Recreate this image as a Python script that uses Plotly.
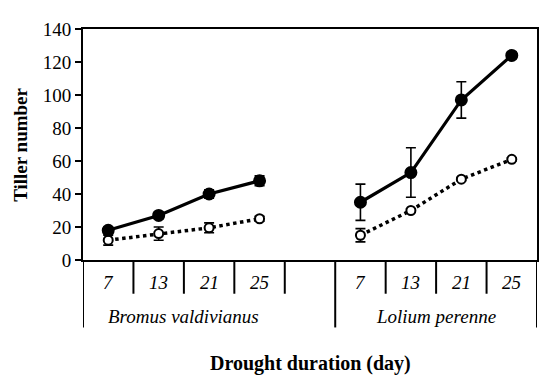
import plotly.graph_objects as go

days = ["7", "13", "21", "25"]
species = ["Bromus valdivianus", "Lolium perenne"]
species_pos = [[1, 2, 3, 4], [6, 7, 8, 9]]

bromus_solid = [18, 27, 40, 48]
bromus_solid_err = [2, 2, 2.5, 3]
bromus_dotted = [12, 16, 19.5, 25]
bromus_dotted_err = [3, 4, 3, 1.5]
lolium_solid = [35, 53, 97, 124]
lolium_solid_err = [11, 15, 11, 2]
lolium_dotted = [15, 30, 49, 61]
lolium_dotted_err = [4, 1, 1, 1]

FONT = "Liberation Serif"

fig = go.Figure()

def add_series(x, y, err, dash, filled):
    fig.add_trace(go.Scatter(
        x=x, y=y, mode="lines+markers",
        line=dict(color="black", width=3.2 if dash == "solid" else 3.5, dash=dash),
        marker=dict(size=11 if filled else 9, color="black" if filled else "white",
                    line=dict(color="black", width=2), symbol="circle"),
        error_y=dict(type="data", array=err, color="black", thickness=1.6, width=5),
        showlegend=False, cliponaxis=False,
    ))

add_series(species_pos[0], bromus_dotted, bromus_dotted_err, "dot", False)
add_series(species_pos[0], bromus_solid, bromus_solid_err, "solid", True)
add_series(species_pos[1], lolium_dotted, lolium_dotted_err, "dot", False)
add_series(species_pos[1], lolium_solid, lolium_solid_err, "solid", True)

shapes = []
for b in [1.5, 2.5, 3.5, 4.5, 6.5, 7.5, 8.5]:
    shapes.append(dict(type="line", xref="x", yref="paper", x0=b, x1=b, y0=0, y1=-0.146,
                       line=dict(color="black", width=2)))
for b in [0.5, 5.5, 9.5]:
    shapes.append(dict(type="line", xref="x", yref="paper", x0=b, x1=b, y0=0, y1=-0.292,
                       line=dict(color="black", width=2)))

def ann(x, y, text, size, xref="x", angle=0):
    return dict(x=x, y=y, xref=xref, yref="paper", text=text, textangle=angle,
                xanchor="center", yanchor="middle", showarrow=False,
                font=dict(family=FONT, size=size, color="black"))

annotations = []
for pos in species_pos:
    for xp, d in zip(pos, days):
        annotations.append(ann(xp, -0.096, f"<i>{d}</i>", 19))
annotations.append(ann(2.5, -0.246, "<i>Bromus valdivianus</i>", 19))
annotations.append(ann(7.5, -0.246, "<i>Lolium perenne</i>", 19))
annotations.append(ann(5.0, -0.45, "<b>Drought duration (day)</b>", 20))
annotations.append(ann(-0.138, 0.5, "<b>Tiller number</b>", 19, xref="paper", angle=-90))

fig.update_layout(
    width=542, height=377,
    margin=dict(l=75, r=11, t=12, b=125),
    paper_bgcolor="white", plot_bgcolor="white",
    shapes=shapes, annotations=annotations,
    xaxis=dict(range=[0.5, 9.5], showticklabels=False, ticks="", showgrid=False, zeroline=False,
               showline=True, linecolor="black", linewidth=2, mirror=True),
    yaxis=dict(range=[0, 140], dtick=20, ticks="outside", ticklen=6, tickwidth=2, tickcolor="black",
               showgrid=False, zeroline=False, showline=True, linecolor="black", linewidth=2, mirror=True,
               tickfont=dict(family=FONT, size=19, color="black")),
)

fig.write_html("out.html")
